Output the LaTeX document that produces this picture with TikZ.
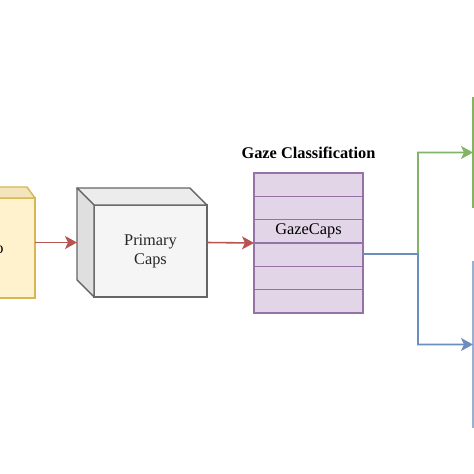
\documentclass[tikz,border=0pt]{standalone}
\usepackage{fontspec}
\setmainfont{Liberation Serif}
\usetikzlibrary{arrows.meta,calc}

\definecolor{redarrow}{HTML}{B85450}
\definecolor{greenline}{HTML}{82B366}
\definecolor{blueline}{HTML}{6C8EBF}
\definecolor{yellowfill}{HTML}{FFF2CC}
\definecolor{yellowtop}{HTML}{F3E4BC}
\definecolor{yellowdraw}{HTML}{D6B656}
\definecolor{purplefill}{HTML}{E1D5E7}
\definecolor{purpledraw}{HTML}{9673A6}

\tikzset{
	flow/.style={line width=0.9pt, -{Stealth[length=0.24cm, width=0.26cm, inset=0.06cm]}},
	blank/.style={inner sep=0pt, outer sep=0pt}
}

\begin{document}
\begin{tikzpicture}[x=0.02cm, y=-0.02cm]
	\fontsize{9.3}{11}\selectfont
	\useasboundingbox (0,0) rectangle (474,474);
	% input cube (cut at the left border)
	\node [blank, minimum width=2.2cm, minimum height=2.22cm] (video) at (-20,242.5) {};
	\filldraw [fill=yellowfill, draw=yellowdraw, line width=0.8pt] ([shift={(8,11)}]video.north west) rectangle (video.south east);
	\filldraw [fill=yellowtop, draw=yellowdraw, line width=0.8pt, line join=round] (video.north west) -- ([shift={(-8,0)}]video.north east) -- ([shift={(0,11)}]video.north east) -- ([shift={(8,11)}]video.north west) -- cycle;
	\node (videotext) at ([shift={(4,5.5)}]video.center) {Video};
	% primary caps cube
	\node [blank, minimum width=2.6cm, minimum height=2.18cm] (primary) at (142,242.5) {};
	\filldraw [fill=gray!8, draw=black!60, line width=0.8pt] ([shift={(17,17)}]primary.north west) rectangle (primary.south east);
	\filldraw [fill=gray!15, draw=black!60, line width=0.8pt, line join=round] (primary.north west) -- ([shift={(-17,0)}]primary.north east) -- ([shift={(0,17)}]primary.north east) -- ([shift={(17,17)}]primary.north west) -- cycle;
	\filldraw [fill=gray!25, draw=black!60, line width=0.8pt, line join=round] (primary.north west) -- ([shift={(17,17)}]primary.north west) -- ([shift={(17,0)}]primary.south west) -- ([shift={(0,-17)}]primary.south west) -- cycle;
	\node [align=center, text=black!85] (primarytext) at ([shift={(8.5,9)}]primary.center) {Primary\\Caps};
	% gaze classification
	\node [blank, draw=purpledraw, fill=purplefill, line width=0.8pt, minimum width=2.18cm, minimum height=2.8cm] (gazecaps) at (308.5,243) {};
	\foreach \i in {1,...,5}
		\draw [purpledraw, line width=0.8pt] ($(gazecaps.north west)!\i/6!(gazecaps.south west)$) -- ($(gazecaps.north east)!\i/6!(gazecaps.south east)$);
	\node (gazetext) at (308.5,231) {GazeCaps};
	\node [font=\bfseries] (gazetitle) at (308.5,153) {Gaze Classification};
	% outputs (cut at the right border)
	\node [blank, draw=greenline, fill=green!8, line width=0.8pt, minimum width=2cm, minimum height=2.18cm] (outgaze) at (523,152.5) {};
	\node [anchor=west, font=\bfseries] (outtitle) at (470,87) {Gaze};
	\node [blank, draw=blueline!70, fill=blue!6, line width=0.8pt, minimum width=2cm, minimum height=3.3cm] (outcaps) at (523,344.5) {};
	% connectors
	\coordinate (split) at (418,254);
	\draw [flow, redarrow] (video.east) -- (primary.west);
	\draw [flow, redarrow] (primary.east) -- (gazecaps.west);
	\draw [flow, greenline] ([yshift=-0.22cm]gazecaps.east) -- (split) |- (outgaze.west);
	\draw [flow, blueline] ([yshift=-0.22cm]gazecaps.east) -- (split) |- (outcaps.west);
\end{tikzpicture}
\end{document}
